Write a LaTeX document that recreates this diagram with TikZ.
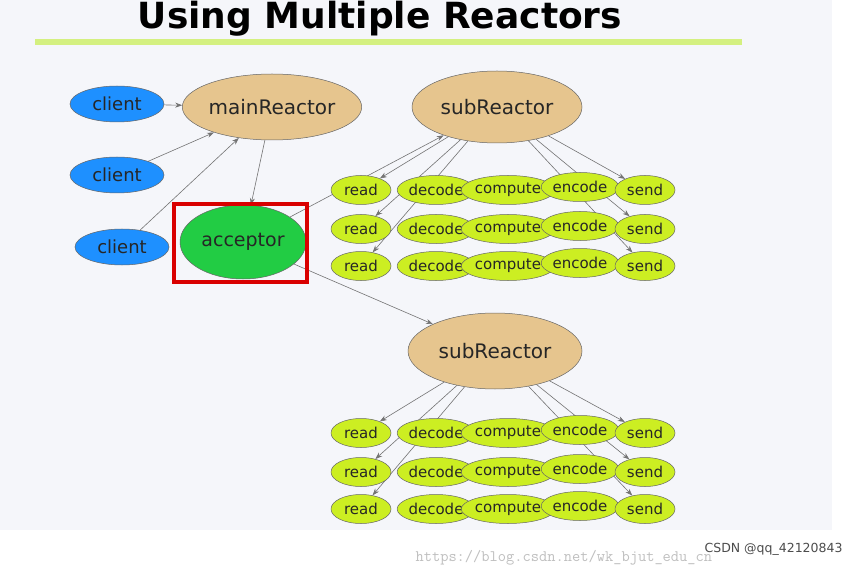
\documentclass[tikz,border=0pt]{standalone}
\usepackage{fontspec}
\setmainfont{DejaVu Sans}
\usetikzlibrary{shapes.geometric,arrows.meta}
\pgfdeclarelayer{bgl}
\pgfsetlayers{bgl,main}
\definecolor{bg}{HTML}{F5F6FA}
\definecolor{tan}{HTML}{E6C58E}
\definecolor{cblue}{HTML}{1E90FF}
\definecolor{agreen}{HTML}{22CC44}
\definecolor{lime}{HTML}{CCEE22}
\definecolor{bar}{HTML}{D4F080}
\begin{document}
\begin{tikzpicture}[x=1pt,y=-1pt,
  el/.style={ellipse,draw=black!60,line width=0.5pt,inner sep=0pt,text=black!85},
  cl/.style={el,fill=cblue,minimum width=94pt,minimum height=36pt,font=\fontsize{18}{18}\selectfont},
  big/.style={el,fill=tan,minimum width=170pt,minimum height=72pt,font=\fontsize{20}{20}\selectfont},
  sm/.style={el,fill=lime,minimum width=60pt,minimum height=29pt,font=\fontsize{15}{15}\selectfont},
  ar/.style={draw=black!55,line width=0.6pt,-{Stealth[length=7pt,width=5pt]}}]
\useasboundingbox (0,0) rectangle (861,569);
\begin{pgfonlayer}{bgl}
\fill[white] (0,0) rectangle (861,569);
\fill[bg] (0,0) rectangle (832,530);
\fill[bar] (35,39) rectangle (742,45);
\end{pgfonlayer}
\node[font=\bfseries\fontsize{36}{36}\selectfont] (title) at (380,19) {Using Multiple Reactors};
\node[cl] (c1) at (117,104) {client};
\node[cl] (c2) at (117,175) {client};
\node[cl] (c3) at (122,247) {client};
\node[big,minimum width=164pt,minimum height=66pt] (main) at (272,107) {mainReactor};
\node[el,fill=agreen,minimum width=126pt,minimum height=74pt,font=\fontsize{19}{19}\selectfont] (acc) at (243,242) {acceptor};
\node[draw=red!85!black,line width=4pt,minimum width=133pt,minimum height=77pt] (box) at (240,243) {};
\node[big] (s1) at (497,107) {subReactor};
\node[big,minimum width=174pt,minimum height=76pt] (s2) at (495,351) {subReactor};
\foreach \r/\y in {1/190,2/229,3/266}{
  \node[sm] (ra\r) at (361,\y) {read};
  \node[sm,minimum width=62pt] (da\r) at (436,\y) {decode};
  \node[sm,minimum width=66pt] (ca\r) at (508,\y) {compute};
  \node[sm,minimum width=62pt] (ea\r) at (580,\y-3) {encode};
  \node[sm] (na\r) at (645,\y) {send};
}
\foreach \r/\y in {1/433,2/472,3/509}{
  \node[sm] (rb\r) at (361,\y) {read};
  \node[sm,minimum width=62pt] (db\r) at (436,\y) {decode};
  \node[sm,minimum width=66pt] (cb\r) at (508,\y) {compute};
  \node[sm,minimum width=62pt] (eb\r) at (580,\y-3) {encode};
  \node[sm] (nb\r) at (645,\y) {send};
}
\begin{pgfonlayer}{bgl}
\draw[ar] (c1) -- (main);
\draw[ar] (c2) -- (main);
\draw[ar] (c3) -- (main);
\draw[ar] (main) -- (acc);
\draw[ar] (acc) -- (s1);
\draw[ar] (acc) -- (s2);
\foreach \r in {1,2,3}{
  \draw[ar] (s1) -- (ra\r);
  \draw[ar] (s1) -- (na\r);
  \draw[ar] (s2) -- (rb\r);
  \draw[ar] (s2) -- (nb\r);
}
\end{pgfonlayer}
\node[text=black!25,font=\ttfamily\fontsize{16}{16}\selectfont,anchor=west] (wm) at (412,558) {https://blog.csdn.net/wk\_bjut\_edu\_cn};
\node[text=black!70,font=\fontsize{12.5}{12.5}\selectfont,anchor=east] (csdn) at (846,549) {CSDN @qq\_42120843};
\end{tikzpicture}
\end{document}
